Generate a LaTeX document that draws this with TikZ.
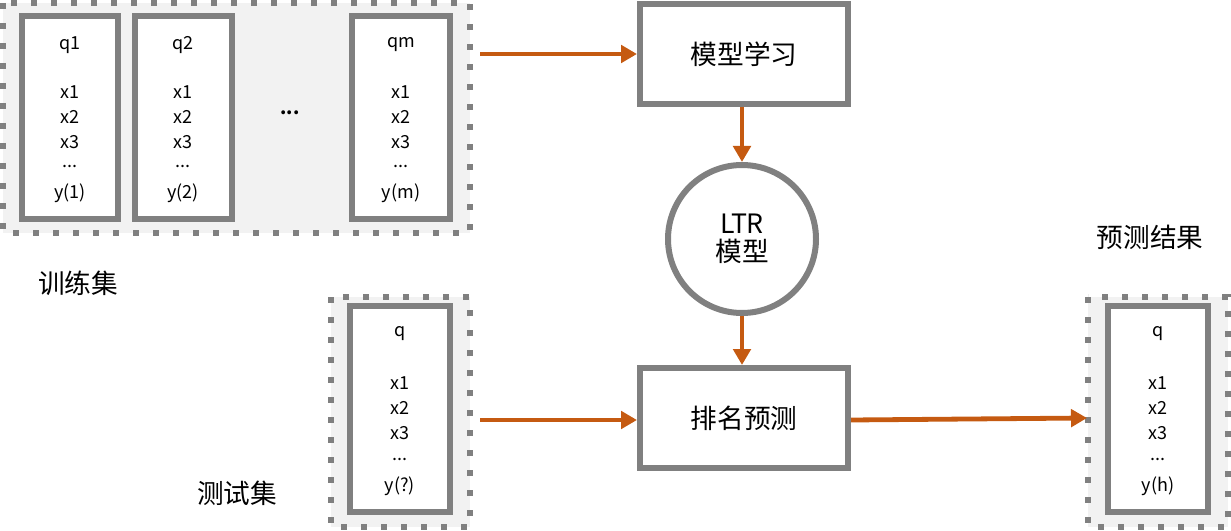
\documentclass[tikz,border=0pt]{standalone}
\usepackage{fontspec}
\setmainfont{Noto Sans CJK SC}
\usetikzlibrary{arrows.meta}
\definecolor{gr}{HTML}{808080}
\definecolor{bg}{HTML}{F2F2F2}
\definecolor{org}{HTML}{C55A11}
\begin{document}
\begin{tikzpicture}[x=0.75pt,y=-0.75pt,
  outer/.style={draw=gr,fill=bg,line width=4.5pt,dash pattern=on 4.5pt off 10.5pt},
  inner/.style={draw=gr,fill=white,line width=4.5pt},
  proc/.style={draw=gr,fill=white,line width=4.5pt,minimum width=156pt,minimum height=75pt,font=\fontsize{20}{24}\selectfont},
  arr/.style={draw=org,line width=3.6pt,-{Triangle[length=12pt,width=13pt]}},
  sm/.style={font=\fontsize{13.5}{16}\selectfont,align=center},
  lab/.style={font=\fontsize{20}{24}\selectfont}]
\useasboundingbox (0,0) rectangle (1231,531);
\draw[outer] (3,3) rectangle (470,233);
\draw[inner] (22,16) rectangle (118,219);
\draw[inner] (135,16) rectangle (232,219);
\draw[inner] (352,16) rectangle (450,219);
\foreach \x/\q/\y in {70/q1/y(1),183/q2/y(2),401/qm/y(m)}{
  \node[sm] at (\x,45) {\q};
  \node[sm] at (\x,92) {x1};
  \node[sm] at (\x,117) {x2};
  \node[sm] at (\x,142) {x3};
  \node[sm] at (\x,166) {...};
  \node[sm] at (\x,193) {\y};
}
\node[sm] (dots) at (290,113) {\textbf{...}};
\node[lab] (train) at (78,283) {训练集};
\draw[outer] (331,297) rectangle (470,527);
\draw[inner] (350,306) rectangle (450,512);
\draw[outer] (1088,297) rectangle (1228,527);
\draw[inner] (1108,306) rectangle (1208,512);
\foreach \x/\y in {400/y(?),1158/y(h)}{
  \node[sm] at (\x,334) {q};
  \node[sm] at (\x,383) {x1};
  \node[sm] at (\x,408) {x2};
  \node[sm] at (\x,433) {x3};
  \node[sm] at (\x,459) {...};
  \node[sm] at (\x,486) {\y};
}
\node[lab] (test) at (237,493) {测试集};
\node[lab] (res) at (1150,237) {预测结果};
\node[proc] (learn) at (744,54) {模型学习};
\node[proc] (rank) at (744,418) {排名预测};
\node[draw=gr,fill=white,line width=4.5pt,circle,minimum size=111pt,align=center,font=\fontsize{20}{24}\selectfont] (ltr) at (742,239) {LTR\\[-3pt]模型};
\coordinate (a1) at (480,54);
\coordinate (a2) at (480,420);
\coordinate (a3) at (1087,418);
\draw[arr] (a1) -- (learn.west|-a1);
\draw[arr] (learn.south-|ltr) -- (ltr.north);
\draw[arr] (ltr.south) -- (rank.north-|ltr);
\draw[arr] (a2) -- (rank.west|-a2);
\draw[arr] (rank.east|-a2) -- (a3);
\end{tikzpicture}
\end{document}
